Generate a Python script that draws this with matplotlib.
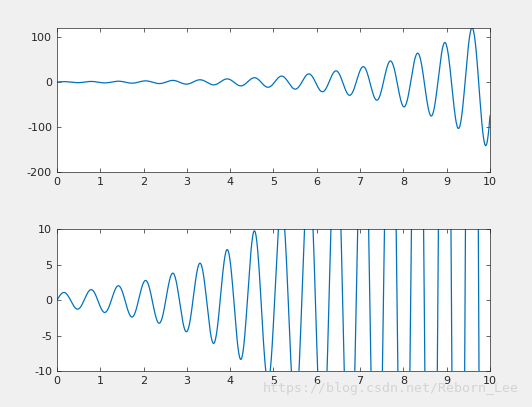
import numpy as np
import matplotlib
matplotlib.use("Agg")
import matplotlib.pyplot as plt

plt.rcParams["axes.unicode_minus"] = False

# y = exp(a*t) * sin(w*t), sampled like MATLAB's t = 0:0.01:10
growth = 0.5
omega = 10.0
t = np.arange(0, 10.0001, 0.01)
y = np.exp(growth * t) * np.sin(omega * t)

x_ticks = list(range(0, 11))
top_yticks = [-200, -100, 0, 100]
bottom_yticks = [-10, -5, 0, 5, 10]

fig = plt.figure(figsize=(5.32, 4.07), dpi=100, facecolor="#f0f0f0")
ax1 = fig.add_axes([0.107, 0.577, 0.814, 0.354])
ax2 = fig.add_axes([0.107, 0.088, 0.814, 0.349])

for ax in (ax1, ax2):
    ax.plot(t, y, color="#0072BD", lw=0.9)
    ax.set_xlim(0, 10)
    ax.set_xticks(x_ticks)
    ax.tick_params(direction="in", top=True, right=True, labelsize=8,
                   length=3, width=0.5, colors="#262626")
    for s in ax.spines.values():
        s.set_linewidth(0.5)
        s.set_color("#262626")

ax1.set_ylim(-200, 120)
ax1.set_yticks(top_yticks)
ax2.set_ylim(-10, 10)
ax2.set_yticks(bottom_yticks)

fig.text(0.975, 0.03, "https://blog.csdn.net/Reborn_Lee", ha="right", va="bottom",
         fontsize=9.5, color="#d4d4d4", family="DejaVu Sans Mono")

fig.savefig("out.png", dpi=100, facecolor=fig.get_facecolor())
